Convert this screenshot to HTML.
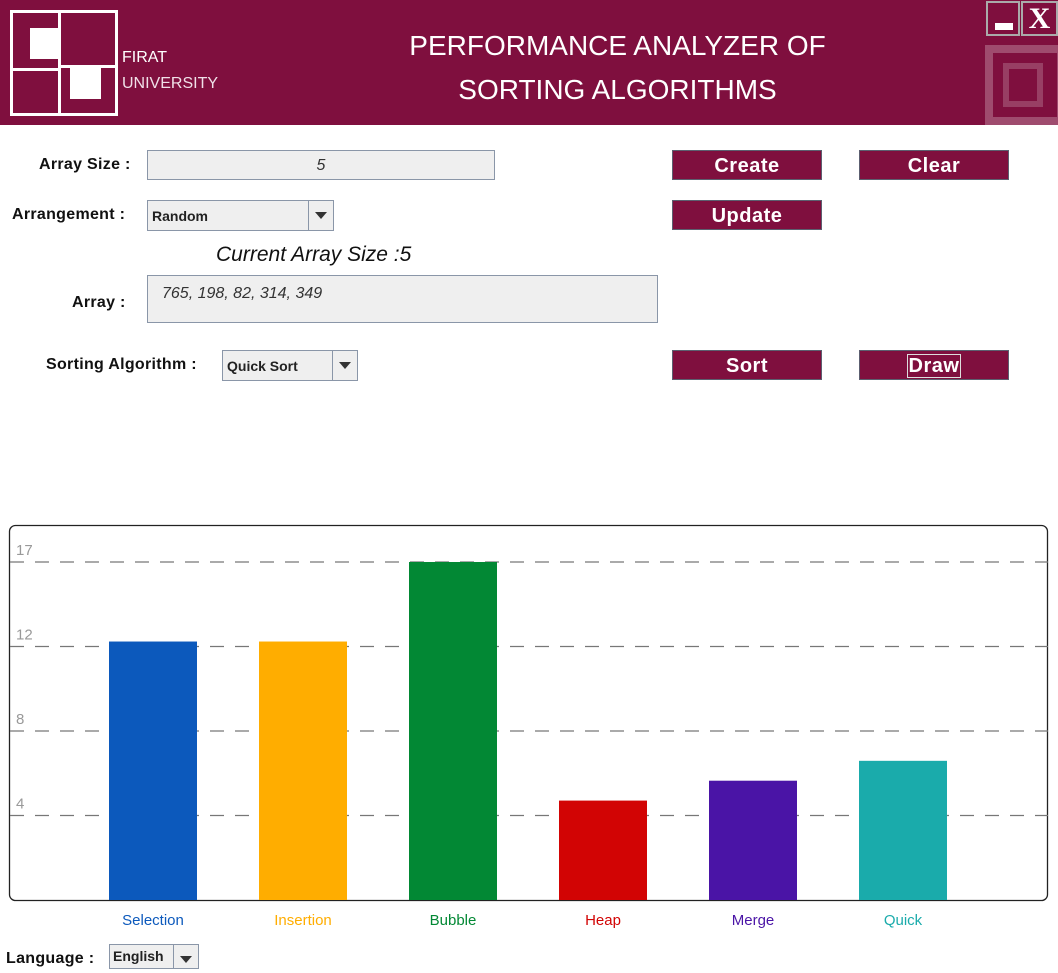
<!DOCTYPE html>
<html><head><meta charset="utf-8"><style>
body{margin:0;width:1058px;height:973px;background:#fff;position:relative;overflow:hidden;font-family:"Liberation Sans",sans-serif}
.a{position:absolute}
.lbl{font-weight:bold;font-size:16px;color:#111;letter-spacing:0.3px}
.btn{position:absolute;background:#7f0f3e;color:#fff;font-weight:bold;font-size:20px;text-align:center;line-height:30px;border:1px solid #5c5f70;box-sizing:border-box;height:30px;width:150px;letter-spacing:0.5px}
.fld{position:absolute;background:#efefef;border:1px solid #8a96a8;box-sizing:border-box}
.combo{position:absolute;background:#efefef;border:1px solid #8a96a8;box-sizing:border-box;font-weight:bold;font-size:14px;color:#222}
.arr{position:absolute;right:0;top:0;bottom:0;width:24px;border-left:1px solid #8a96a8}
.arr:after{content:"";position:absolute;left:6px;top:11px;border-left:6px solid transparent;border-right:6px solid transparent;border-top:7px solid #333}
</style></head><body>
<div class="a" style="left:0;top:0;width:1058px;height:125px;background:#7f0f3e">
  <div class="a" style="left:10px;top:10px;width:108px;height:106px">
    <div class="a" style="left:0;top:0;border:3px solid #fff;width:102px;height:100px"></div>
    <div class="a" style="left:48px;top:0;width:3px;height:58px;background:#fff"></div>
    <div class="a" style="left:48px;top:55px;width:57px;height:3px;background:#fff"></div>
    <div class="a" style="left:0;top:58px;width:48px;height:3px;background:#fff"></div>
    <div class="a" style="left:48px;top:58px;width:3px;height:48px;background:#fff"></div>
    <div class="a" style="left:20px;top:18px;width:31px;height:31px;background:#fff"></div>
    <div class="a" style="left:60px;top:58px;width:31px;height:31px;background:#fff"></div>
  </div>
  <div class="a" style="left:122px;top:49px;color:#fff;font-size:16px">FIRAT</div>
  <div class="a" style="left:122px;top:75px;color:#f0e0e8;font-size:16px">UNIVERSITY</div>
  <div class="a" style="left:360px;top:24px;width:515px;text-align:center;color:#fff;font-size:28px;line-height:44px;letter-spacing:0px">PERFORMANCE ANALYZER OF<br>SORTING ALGORITHMS</div>
  <div class="a" style="left:985px;top:45px;width:80px;height:80px;border:8px solid rgba(255,255,255,0.25);box-sizing:border-box"></div>
  <div class="a" style="left:1003px;top:63px;width:40px;height:44px;border:6px solid rgba(255,255,255,0.2);box-sizing:border-box"></div>
  <div class="a" style="left:986px;top:1px;width:34px;height:35px;border:2px solid #aaa;box-sizing:border-box"><div class="a" style="left:7px;top:20px;width:18px;height:7px;background:#fff"></div></div>
  <div class="a" style="left:1021px;top:1px;width:37px;height:35px;border:2px solid #aaa;box-sizing:border-box;color:#fff;font:bold 30px 'Liberation Serif',serif;text-align:center;line-height:32px">X</div>
</div>

<div class="a lbl" style="left:39px;top:156px">Array Size :</div>
<div class="fld" style="left:147px;top:150px;width:348px;height:30px;text-align:center;font-style:italic;font-size:16px;line-height:30px;color:#333">5</div>
<div class="a lbl" style="left:12px;top:206px">Arrangement :</div>
<div class="combo" style="left:147px;top:200px;width:187px;height:31px;line-height:30px;padding-left:4px">Random<div class="arr"></div></div>
<div class="a" style="left:216px;top:243px;font-style:italic;font-size:21px;color:#111">Current Array Size :5</div>
<div class="a lbl" style="left:72px;top:294px">Array :</div>
<div class="fld" style="left:147px;top:275px;width:511px;height:48px;padding:9px 14px;font-style:italic;font-size:16px;color:#333">765, 198, 82, 314, 349</div>
<div class="a lbl" style="left:46px;top:356px">Sorting Algorithm :</div>
<div class="combo" style="left:222px;top:350px;width:136px;height:31px;line-height:30px;padding-left:4px">Quick Sort<div class="arr"></div></div>

<div class="btn" style="left:672px;top:150px">Create</div>
<div class="btn" style="left:859px;top:150px">Clear</div>
<div class="btn" style="left:672px;top:200px">Update</div>
<div class="btn" style="left:672px;top:350px">Sort</div>
<div class="btn" style="left:859px;top:350px"><span style="border:1px solid #ddd;padding:0 1px">Draw</span></div>

<svg class="a" style="left:0;top:515px" width="1058" height="420" id="chart"></svg>

<div class="a lbl" style="left:6px;top:950px">Language :</div>
<div class="combo" style="left:109px;top:944px;width:90px;height:25px;line-height:23px;padding-left:3px">English<div class="arr" style="width:24px"></div></div>

<script>
const categories=["Selection","Insertion","Bubble","Heap","Merge","Quick"];
const values=[13,13,17,5,6,7];
const colors=["#0c59bc","#ffad00","#028834","#d20404","#4a14a6","#1aabab"];
const gridFractions=[1,0.75,0.5,0.25];
const ns="http://www.w3.org/2000/svg";
const svg=document.getElementById('chart');
const OY=515, top0=562-OY, base=900-OY;
const maxV=Math.max(...values);
const y=v=>base-(v/maxV)*(base-top0);
const x=i=>109+i*150;
function mk(t,a){const e=document.createElementNS(ns,t);for(const k in a)e.setAttribute(k,a[k]);svg.appendChild(e);return e;}
const frame=mk('rect',{x:9.5,y:10.5,width:1038,height:375,rx:6,fill:'#fff',stroke:'#222','stroke-width':1.3});


gridFractions.forEach(f=>{
  const v=maxV*f, yy=y(v);
  const g=mk('line',{x1:10,x2:1048,y1:yy,y2:yy,stroke:'#777','stroke-dasharray':'14 11','stroke-width':1.3});
  
  
  const t=mk('text',{x:16,y:yy-7,fill:'#999','font-size':15,'font-family':'Liberation Sans, sans-serif'});
  t.textContent=Math.floor(v);
  
  
});
categories.forEach((c,i)=>{
  const b=mk('rect',{x:x(i),y:y(values[i]),width:88,height:base-y(values[i]),fill:colors[i]});
  
  
  const t=mk('text',{x:x(i)+44,y:base+25,fill:colors[i],'font-size':15,'text-anchor':'middle','font-family':'Liberation Sans, sans-serif'});
  t.textContent=c;
  
  
});
</script>
</body></html>
